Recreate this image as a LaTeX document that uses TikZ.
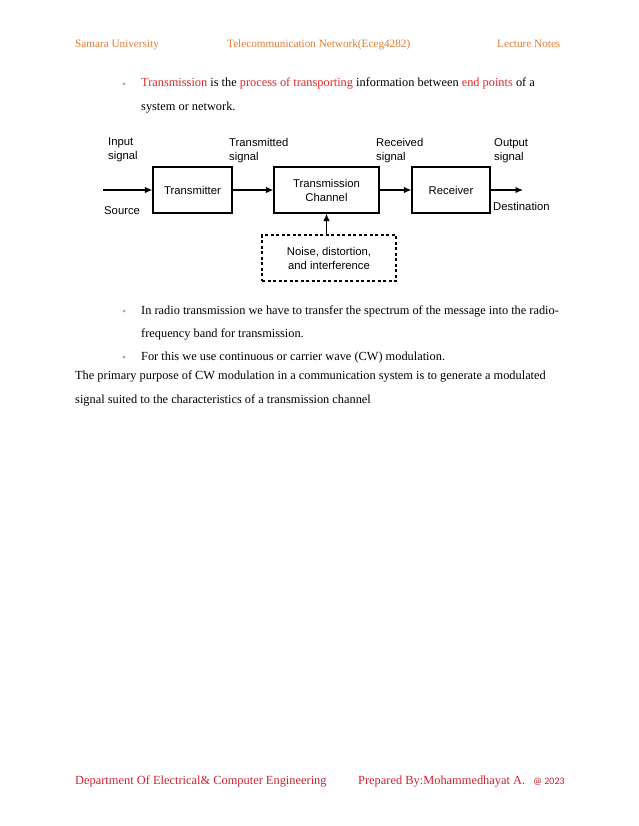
\documentclass[tikz,border=0pt]{standalone}
\usepackage{fontspec}
\setmainfont{Liberation Serif}
\newfontfamily\diagfont{Liberation Sans}
\newfontfamily\calfont{Carlito}
\usetikzlibrary{arrows.meta}
\definecolor{hdr}{RGB}{226,122,52}
\definecolor{ftr}{RGB}{204,34,46}
\definecolor{hl}{RGB}{222,40,40}
\definecolor{bul}{RGB}{175,160,160}
\begin{document}
\begin{tikzpicture}[x=1pt,y=-1pt,
  txt/.style={anchor=base west, inner sep=0pt, font=\fontsize{12.35}{14}\selectfont},
  hdrtxt/.style={anchor=base west, inner sep=0pt, text=hdr, font=\fontsize{11.2}{12}\selectfont},
  ftrtxt/.style={anchor=base west, inner sep=0pt, text=ftr, font=\fontsize{12.4}{13}\selectfont},
  blk/.style={draw, line width=1.15pt, minimum height=46pt, inner sep=0pt, align=center,
              font=\diagfont\fontsize{11.3}{14}\selectfont},
  noisebox/.style={blk, dashed, dash pattern=on 3pt off 2.5pt},
  lbl/.style={anchor=north west, inner sep=0pt, align=left, font=\diagfont\fontsize{11.3}{14}\selectfont},
  arr/.style={line width=1.15pt, -{Latex[length=7.5pt,width=6.5pt]}},
  bulletdot/.style={circle, fill=bul, inner sep=0pt, minimum size=3pt}
]
\useasboundingbox (0,0) rectangle (638,826);

% header
\node[hdrtxt] (h1) at (75,48) {Samara University};
\node[hdrtxt] (h2) at (227,48) {Telecommunication Network(Eceg4282)};
\node[hdrtxt] (h3) at (497,48) {Lecture Notes};

% first bullet
\node[bulletdot] (b1) at (124,84) {};
\node[txt] (t1) at (141,87) {\textcolor{hl}{Transmission} is the \textcolor{hl}{process of transporting} information between \textcolor{hl}{end points} of a};
\node[txt] (t2) at (141,111) {system or network.};

% diagram
\node[blk, minimum width=79pt] (tx) at (192.5,190) {Transmitter};
\node[blk, minimum width=105pt] (ch) at (326.5,190) {Transmission\\Channel};
\node[blk, minimum width=78pt] (rx) at (451,190) {Receiver};
\node[noisebox, minimum width=134pt] (nz) at (329,258) {Noise, distortion,\\and interference};
\coordinate (src) at (103,190);
\coordinate (dst) at (523,190);
\draw[arr] (src) -- (tx.west);
\draw[arr] (tx.east) -- (ch.west);
\draw[arr] (ch.east) -- (rx.west);
\draw[arr] (rx.east) -- (dst);
\draw[arr] (ch.south |- nz.north) -- (ch.south);

\node[lbl] (l1) at (108,138) {Input\\signal};
\node[lbl] (l2) at (229,138) {Transmitted\\signal};
\node[lbl] (l3) at (376,138) {Received\\signal};
\node[lbl] (l4) at (494,138) {Output\\signal};
\node[lbl] (l5) at (104,206) {Source};
\node[lbl] (l6) at (493,202) {Destination};

% bullets below
\node[bulletdot] (b2) at (124,311) {};
\node[txt] (t3) at (141,314) {In radio transmission we have to transfer the spectrum of the message into the radio-};
\node[txt] (t4) at (141,337) {frequency band for transmission.};
\node[bulletdot] (b3) at (124,357) {};
\node[txt] (t5) at (141,360) {For this we use continuous or carrier wave (CW) modulation.};
\node[txt] (t6) at (75,379) {The primary purpose of CW modulation in a communication system is to generate a modulated};
\node[txt] (t7) at (75,403) {signal suited to the characteristics of a transmission channel};

% footer
\node[ftrtxt] (f1) at (75,784) {Department Of Electrical\& Computer Engineering};
\node[ftrtxt] (f2) at (358,784) {Prepared By:Mohammedhayat A.};
\node[anchor=base west, inner sep=0pt, text=ftr, font=\calfont\fontsize{10}{11}\selectfont] (f3) at (533,784) {@ 2023};
\end{tikzpicture}
\end{document}
